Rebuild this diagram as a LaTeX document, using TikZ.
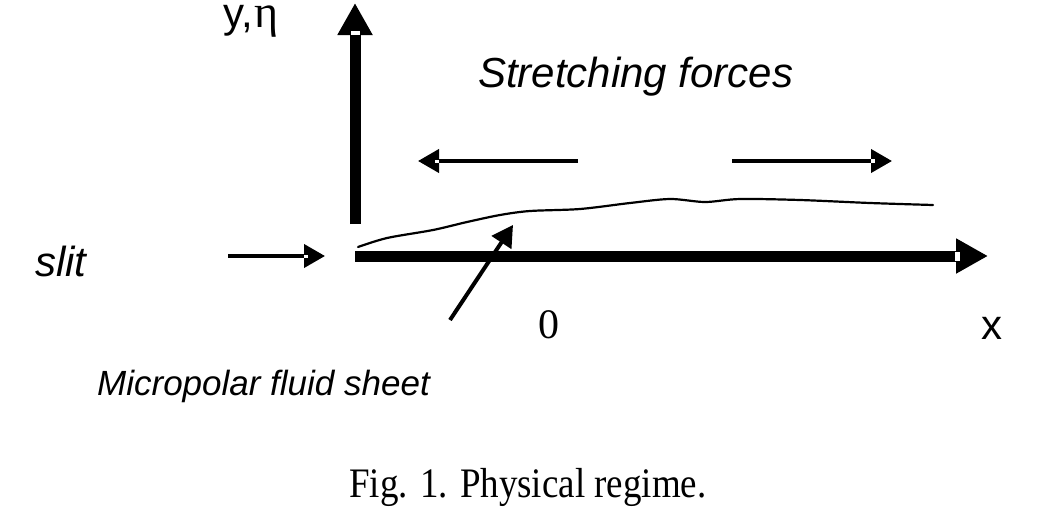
\documentclass[tikz,border=0pt]{standalone}
\usepackage{fontspec}
\setmainfont{Liberation Sans}
\newfontfamily\serifcap[FakeStretch=0.88]{Liberation Serif}
\newfontfamily\serifplain{Liberation Serif}
\usetikzlibrary{arrows.meta}
\tikzset{
  thickaxis/.style={line width=11pt,-{Triangle[length=32pt,width=33pt]}},
  smallarrow/.style={line width=4pt,-{Triangle[length=21pt,width=23pt]}},
  notch/.style={fill=white,draw=none},
  sheet/.style={line width=2.2pt,line cap=round,line join=round},
  lab/.style={inner sep=0pt,anchor=base west},
  itlab/.style={lab,font=\itshape}
}
\begin{document}
\begin{tikzpicture}[x=1pt,y=-1pt]
\useasboundingbox (0,0) rectangle (1041,509);
\coordinate (yfoot) at (355,224);
\coordinate (ytip) at (355,3);
\coordinate (xfoot) at (355,256);
\coordinate (xtip) at (988,256);
\coordinate (lfoot) at (578,161);
\coordinate (ltip) at (418,161);
\coordinate (rfoot) at (732,161);
\coordinate (rtip) at (892,161);
\coordinate (sfoot) at (228,256);
\coordinate (stip) at (325,256);
\coordinate (mfoot) at (450,320);
\coordinate (mtip) at (513,225);
\draw[thickaxis] (yfoot) -- (ytip);
\draw[thickaxis] (xfoot) -- (xtip);
\draw[smallarrow] (lfoot) -- (ltip);
\draw[smallarrow] (rfoot) -- (rtip);
\draw[smallarrow] (sfoot) -- (stip);
\draw[smallarrow] (mfoot) -- (mtip);
\fill[notch] (351,30.5) rectangle (360,35);
\fill[notch] (955,252) rectangle (960,261);
\fill[notch] (871,159) rectangle (875,163);
\fill[notch] (304,254.5) rectangle (308,257.5);
\fill[notch] (435,159.5) rectangle (439,162.5);
\draw[sheet] plot[smooth,tension=0.5] coordinates {(358,247) (387,238) (433,230) (467,222) (500,215) (530,211) (580,209) (630,203) (670,199) (705,202) (740,199) (800,200) (870,203) (933,205)};
\node[lab,font=\fontsize{42}{42}\selectfont] (ylab) at (223,27) {y,\kern2pt{\serifplain\fontsize{46}{46}\selectfont η}};
\node[itlab,font=\itshape\fontsize{42}{42}\selectfont] (title) at (478,87) {Stretching forces};
\node[itlab,font=\itshape\fontsize{42}{42}\selectfont] (slit) at (35,276) {slit};
\node[lab,font=\serifplain\fontsize{42}{42}\selectfont] (zero) at (538,338) {0};
\node[lab,font=\fontsize{42}{42}\selectfont] (xlab) at (981,339) {x};
\node[itlab,font=\itshape\fontsize{35}{35}\selectfont] (micro) at (97,395) {Micropolar fluid sheet};
\node[lab,font=\serifcap\fontsize{42}{42}\selectfont] (cap) at (349,497) {Fig. 1. Physical regime.};
\end{tikzpicture}
\end{document}
